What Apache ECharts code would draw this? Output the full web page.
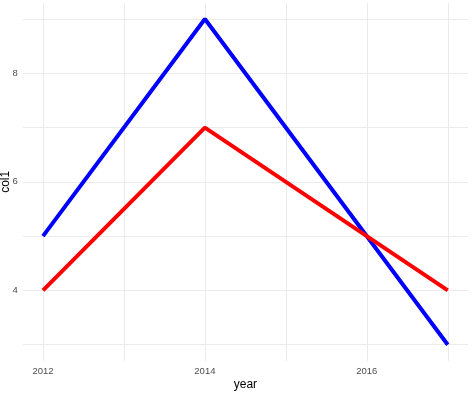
<!DOCTYPE html>
<html><head><meta charset="utf-8">
<script src="https://cdn.jsdelivr.net/npm/echarts@6/dist/echarts.min.js"></script>
<style>html,body{margin:0;padding:0;background:#fff}#c{width:474px;height:395px}</style>
</head><body><div id="c"></div>
<script>
var years = [2012, 2014, 2017];
var blueValues = [5, 9, 3];
var redValues = [4, 7, 4];
var xTickLabels = [2012, 2014, 2016];
var xGridValues = [2012, 2013, 2014, 2015, 2016, 2017];
var yTickLabels = [4, 6, 8];
var yGridValues = [3, 4, 5, 6, 7, 8, 9];

function pairs(xs, ys) { return xs.map(function (x, i) { return [x, ys[i]]; }); }

var chart = echarts.init(document.getElementById('c'), null, {renderer: 'canvas'});
var font = 'Liberation Sans, Arial, sans-serif';
chart.setOption({
  animation: false,
  backgroundColor: '#ffffff',
  grid: {left: 22.75, right: 6, top: 2.7, bottom: 34, containLabel: false, outerBoundsMode: 'none'},
  xAxis: {
    type: 'value', min: 2011.75, max: 2017.25,
    name: 'year', nameLocation: 'middle', nameGap: 18, nameMoveOverlap: false,
    nameTextStyle: {color: '#000', fontSize: 12, fontFamily: font},
    axisLine: {show: false},
    axisTick: {show: false, customValues: xGridValues},
    axisLabel: {customValues: xTickLabels, formatter: function (v) { return String(v); }, color: '#4d4d4d', fontSize: 9.5, fontFamily: font, margin: 5},
    splitLine: {show: true, lineStyle: {color: '#ebebeb', width: 1}}
  },
  yAxis: {
    type: 'value', min: 2.7, max: 9.3,
    name: 'col1', nameLocation: 'middle', nameGap: 11, nameMoveOverlap: false,
    nameTextStyle: {color: '#000', fontSize: 12, fontFamily: font},
    axisLine: {show: false},
    axisTick: {show: false, customValues: yGridValues},
    axisLabel: {customValues: yTickLabels, formatter: function (v) { return String(v); }, color: '#4d4d4d', fontSize: 9.5, fontFamily: font, margin: 5},
    splitLine: {show: true, lineStyle: {color: '#ebebeb', width: 1}}
  },
  series: [
    {type: 'line', data: pairs(years, blueValues), showSymbol: false, lineStyle: {color: '#0000ff', width: 4}, itemStyle: {color: '#0000ff'}},
    {type: 'line', data: pairs(years, redValues), showSymbol: false, lineStyle: {color: '#ff0000', width: 4}, itemStyle: {color: '#ff0000'}}
  ]
});
</script></body></html>
